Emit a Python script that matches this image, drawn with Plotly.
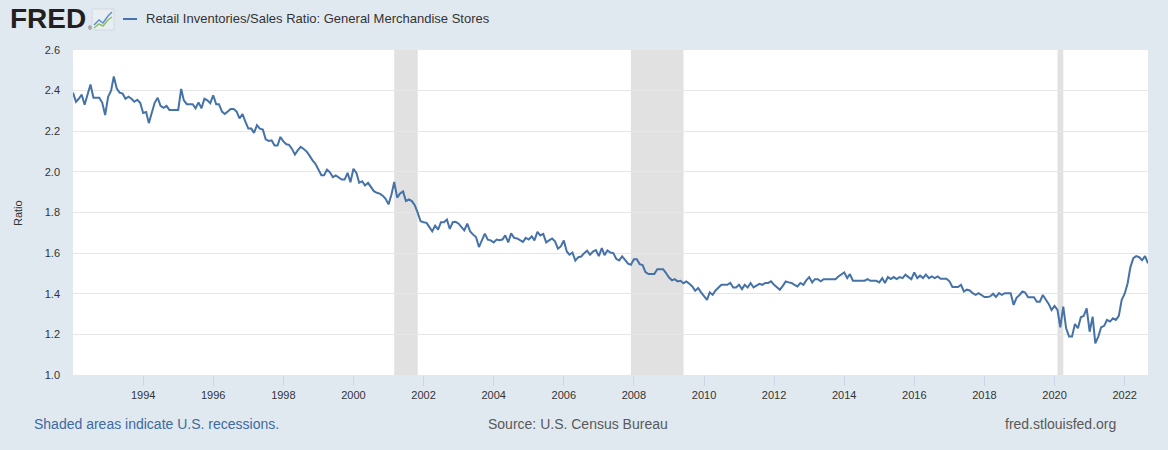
import pandas as pd
import plotly.graph_objects as go

# Monthly Retail Inventories/Sales Ratio: General Merchandise Stores
ratio_1992_1999 = [
    2.39, 2.345, 2.36, 2.38, 2.33, 2.385, 2.43, 2.365, 2.365, 2.365, 2.34, 2.28,
    2.37, 2.40, 2.47, 2.41, 2.39, 2.385, 2.36, 2.37, 2.36, 2.345, 2.355, 2.34,
    2.29, 2.295, 2.24, 2.29, 2.34, 2.365, 2.325, 2.315, 2.325, 2.305, 2.305, 2.305,
    2.305, 2.408, 2.352, 2.333, 2.333, 2.333, 2.313, 2.342, 2.313, 2.36, 2.352, 2.338,
    2.377, 2.333, 2.333, 2.297, 2.285, 2.30, 2.31, 2.31, 2.297, 2.263, 2.285, 2.247,
    2.213, 2.213, 2.192, 2.23, 2.213, 2.208, 2.16, 2.152, 2.155, 2.13, 2.13, 2.172,
    2.15, 2.136, 2.133, 2.113, 2.085, 2.107, 2.123, 2.113, 2.10, 2.08, 2.056, 2.04,
    2.015, 1.983, 1.983, 2.011, 1.998, 1.974, 1.982, 1.974, 1.962, 1.962, 1.995, 1.949,
]
ratio_2000_2009 = [
    2.015, 1.995, 1.946, 1.954, 1.933, 1.946, 1.926, 1.905, 1.897, 1.893, 1.883, 1.867,
    1.84, 1.89, 1.95, 1.873, 1.894, 1.904, 1.856, 1.864, 1.856, 1.836, 1.798, 1.757,
    1.752, 1.749, 1.729, 1.707, 1.735, 1.716, 1.752, 1.752, 1.765, 1.719, 1.752, 1.754,
    1.745, 1.729, 1.712, 1.745, 1.707, 1.691, 1.679, 1.63, 1.666, 1.696, 1.666, 1.663,
    1.653, 1.667, 1.663, 1.667, 1.687, 1.653, 1.697, 1.675, 1.672, 1.663, 1.655, 1.675,
    1.667, 1.683, 1.663, 1.705, 1.687, 1.695, 1.653, 1.663, 1.672, 1.658, 1.622, 1.633,
    1.662, 1.608, 1.592, 1.603, 1.563, 1.58, 1.583, 1.60, 1.612, 1.592, 1.608, 1.615,
    1.585, 1.625, 1.59, 1.613, 1.603, 1.60, 1.572, 1.564, 1.584, 1.567, 1.548, 1.543,
    1.57, 1.57, 1.546, 1.541, 1.507, 1.497, 1.497, 1.497, 1.521, 1.521, 1.521, 1.502,
    1.48, 1.466, 1.472, 1.461, 1.464, 1.452, 1.461, 1.449, 1.436, 1.415, 1.428, 1.407,
]
ratio_2010_2022 = [
    1.39, 1.37, 1.407, 1.395, 1.416, 1.433, 1.444, 1.444, 1.444, 1.453, 1.431, 1.431,
    1.444, 1.423, 1.444, 1.431, 1.453, 1.431, 1.441, 1.449, 1.444, 1.453, 1.453, 1.461,
    1.444, 1.431, 1.42, 1.439, 1.461, 1.456, 1.453, 1.444, 1.436, 1.453, 1.444, 1.466,
    1.482, 1.456, 1.472, 1.472, 1.461, 1.472, 1.472, 1.472, 1.472, 1.472, 1.485, 1.494,
    1.505, 1.477, 1.497, 1.464, 1.464, 1.464, 1.464, 1.464, 1.472, 1.464, 1.464, 1.464,
    1.456, 1.477, 1.453, 1.482, 1.472, 1.482, 1.472, 1.482, 1.477, 1.494, 1.482, 1.472,
    1.505, 1.477, 1.489, 1.477, 1.494, 1.477, 1.485, 1.477, 1.485, 1.474, 1.474, 1.474,
    1.461, 1.433, 1.433, 1.433, 1.444, 1.411, 1.42, 1.416, 1.403, 1.395, 1.403, 1.392,
    1.384, 1.384, 1.387, 1.40, 1.384, 1.403, 1.395, 1.403, 1.403, 1.403, 1.345, 1.38,
    1.394, 1.411, 1.406, 1.383, 1.383, 1.383, 1.361, 1.361, 1.394, 1.373, 1.35, 1.32,
    1.34, 1.32, 1.235, 1.337, 1.23, 1.189, 1.189, 1.251, 1.23, 1.284, 1.291, 1.328,
    1.213, 1.287, 1.156, 1.189, 1.235, 1.242, 1.271, 1.263, 1.279, 1.271, 1.291, 1.37,
    1.40, 1.452, 1.53, 1.575, 1.585, 1.58, 1.565, 1.585, 1.55,
]
start_month = "1992-01-01"

recession_starts = ["2001-03-01", "2007-12-01", "2020-02-01"]
recession_ends = ["2001-11-01", "2009-06-01", "2020-04-01"]

x_tick_years = list(range(1994, 2023, 2))
y_tick_values = [1.0, 1.2, 1.4, 1.6, 1.8, 2.0, 2.2, 2.4, 2.6]

series_name = "Retail Inventories/Sales Ratio: General Merchandise Stores"

values = ratio_1992_1999 + ratio_2000_2009 + ratio_2010_2022
dates = pd.date_range(start_month, periods=len(values), freq="MS")

W, H = 1168, 450
ML, MR, MT, MB = 73, 20, 50, 75
PW, PH = W - ML - MR, H - MT - MB


def px_x(px):
    return (px - ML) / PW


def px_y(py):
    return 1 - (py - MT) / PH


LINE_COLOR = "#4572a7"
FONT = "Liberation Sans, Arial, sans-serif"

fig = go.Figure()
fig.add_trace(go.Scatter(
    x=dates, y=values, mode="lines", name=series_name,
    line=dict(color=LINE_COLOR, width=2), showlegend=False,
))

shapes = []
for s, e in zip(recession_starts, recession_ends):
    shapes.append(dict(type="rect", xref="x", yref="paper", x0=s, x1=e, y0=0, y1=1,
                       fillcolor="#e1e1e1", line=dict(width=0), layer="below"))

# legend sample line
shapes.append(dict(type="line", xref="paper", yref="paper",
                   x0=px_x(123), x1=px_x(137), y0=px_y(19), y1=px_y(19),
                   line=dict(color=LINE_COLOR, width=2)))
# FRED logo icon
shapes.append(dict(type="rect", xref="paper", yref="paper",
                   x0=px_x(92), x1=px_x(114), y0=px_y(30), y1=px_y(9),
                   fillcolor="#e9eef3", line=dict(color="#d0d8e0", width=1)))
shapes.append(dict(type="path", xref="paper", yref="paper",
                   path="M {} {} L {} {} L {} {} L {} {} L {} {}".format(
                       px_x(94), px_y(25), px_x(99), px_y(20), px_x(103), px_y(23),
                       px_x(108), px_y(16), px_x(112), px_y(12)),
                   line=dict(color="#5f8fc8", width=1.5)))
shapes.append(dict(type="path", xref="paper", yref="paper",
                   path="M {} {} L {} {} L {} {} L {} {} L {} {}".format(
                       px_x(94), px_y(28), px_x(99), px_y(24), px_x(103), px_y(26),
                       px_x(108), px_y(20), px_x(112), px_y(17)),
                   line=dict(color="#8cc063", width=1.5)))

annotations = [
    dict(text="<b>FRED</b>", xref="paper", yref="paper", x=px_x(8), y=px_y(19),
         xanchor="left", yanchor="middle", showarrow=False,
         font=dict(family=FONT, size=28, color="#231f20")),
    dict(text="®", xref="paper", yref="paper", x=px_x(86), y=px_y(28),
         xanchor="left", yanchor="middle", showarrow=False,
         font=dict(family=FONT, size=5, color="#231f20")),
    dict(text=series_name, xref="paper", yref="paper", x=px_x(144), y=px_y(19),
         xanchor="left", yanchor="middle", showarrow=False,
         font=dict(family=FONT, size=13, color="#333333")),
    dict(text="Ratio", xref="paper", yref="paper", x=px_x(18), y=px_y(213),
         xanchor="center", yanchor="middle", showarrow=False, textangle=-90,
         font=dict(family=FONT, size=11, color="#333333")),
    dict(text="Shaded areas indicate U.S. recessions.", xref="paper", yref="paper",
         x=px_x(32), y=px_y(424), xanchor="left", yanchor="middle", showarrow=False,
         font=dict(family=FONT, size=14, color="#3e6aa0")),
    dict(text="Source: U.S. Census Bureau", xref="paper", yref="paper",
         x=px_x(578), y=px_y(424), xanchor="center", yanchor="middle", showarrow=False,
         font=dict(family=FONT, size=14, color="#595959")),
    dict(text="fred.stlouisfed.org", xref="paper", yref="paper",
         x=px_x(1118), y=px_y(424), xanchor="right", yanchor="middle", showarrow=False,
         font=dict(family=FONT, size=14, color="#595959")),
]

fig.update_layout(
    width=W, height=H, autosize=False,
    margin=dict(l=ML, r=MR, t=MT, b=MB, pad=0),
    paper_bgcolor="#e1e9f0", plot_bgcolor="#ffffff",
    font=dict(family=FONT, size=11, color="#333333"),
    shapes=shapes, annotations=annotations,
    xaxis=dict(
        type="date", range=[dates[0], dates[-1]],
        tickvals=[f"{y}-01-01" for y in x_tick_years],
        ticktext=[str(y) for y in x_tick_years],
        ticks="outside", ticklen=10, tickcolor="#ccd6eb", tickwidth=1,
        showgrid=False, zeroline=False, showline=False,
        tickfont=dict(family=FONT, size=11, color="#333333"),
    ),
    yaxis=dict(
        range=[1.0, 2.6], tickvals=y_tick_values,
        ticktext=[f"{v:.1f}" for v in y_tick_values],
        showgrid=True, gridcolor="#e6e6e6", gridwidth=1, zeroline=False,
        showline=False, ticks="", ticklabelstandoff=12,
        tickfont=dict(family=FONT, size=11, color="#333333"),
    ),
)

fig.write_html("out.html")
